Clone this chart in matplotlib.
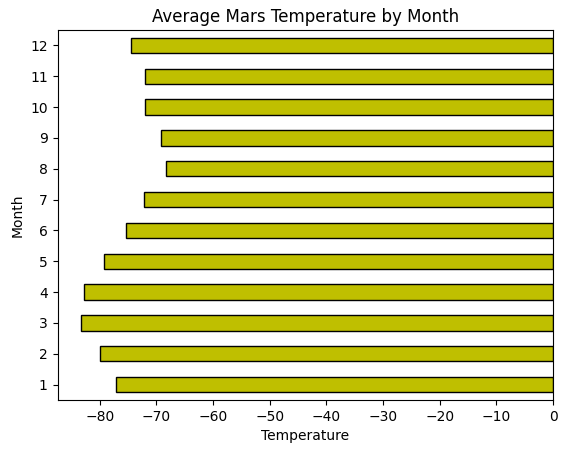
import matplotlib
matplotlib.use("Agg")
import matplotlib.pyplot as plt
import pandas as pd

months = [1, 2, 3, 4, 5, 6, 7, 8, 9, 10, 11, 12]
avg_min_temp = [-77.16, -79.93, -83.31, -82.75, -79.31, -75.30,
                -72.28, -68.38, -69.17, -71.98, -71.99, -74.45]

temps = pd.Series(avg_min_temp, index=pd.Index(months, name="Month"))

fig = plt.figure(figsize=(5.67, 4.53), dpi=100)
ax = fig.add_subplot(111)
temps.plot(kind="barh", color="y", edgecolor="black", ax=ax)
ax.set_xlabel("Temperature")
ax.set_ylabel("Month")
ax.set_title("Average Mars Temperature by Month")
fig.subplots_adjust(left=57.5/567, right=553/567, top=1-30/453, bottom=1-400/453)
fig.savefig("out.png", dpi=100)
